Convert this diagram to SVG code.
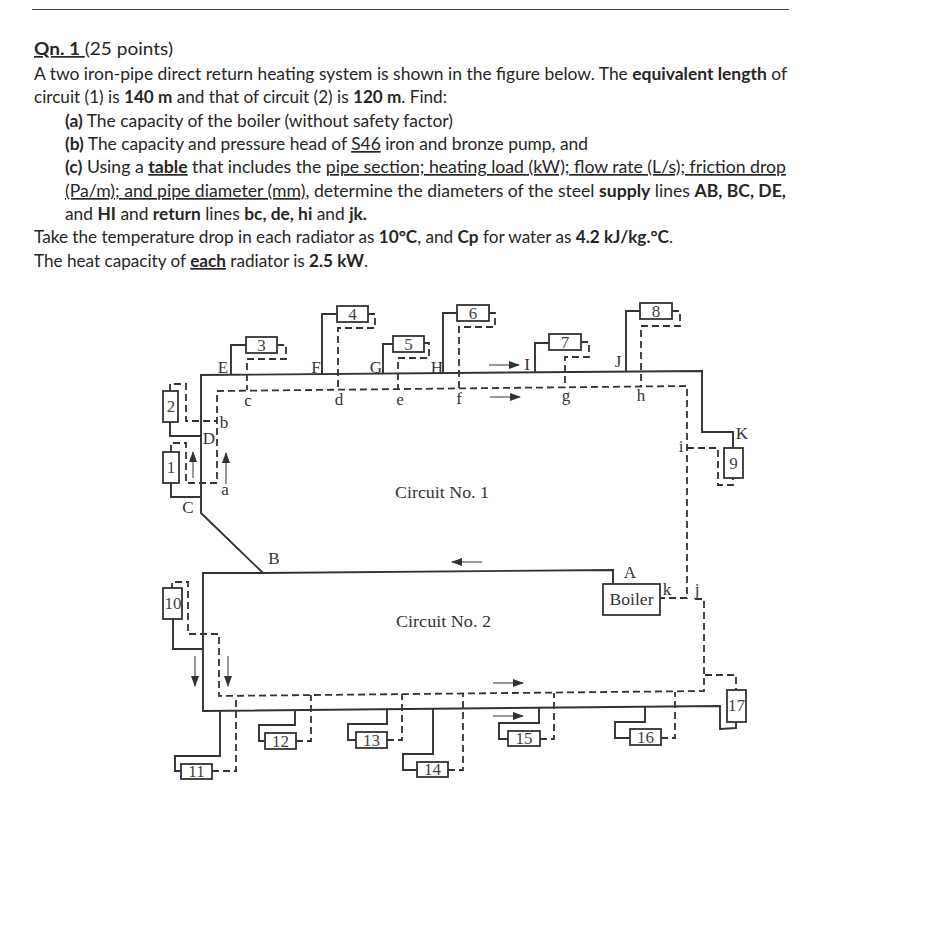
<svg xmlns="http://www.w3.org/2000/svg" width="928" height="950" viewBox="0 0 928 950">
<style>
.q{font-family:Lato,"Carlito","Open Sans",sans-serif;font-size:16.9px;fill:#262626}
.b{font-weight:700}
.u{text-decoration:underline;text-decoration-skip-ink:none}
.l{font-family:"Liberation Serif",serif;font-size:17px;fill:#333;text-anchor:middle}
.n{font-family:"Liberation Serif",serif;font-size:17px;fill:#444;text-anchor:middle}
.c{font-family:"Liberation Serif",serif;font-size:16.5px;fill:#333}
.r{fill:#fff;stroke:#333;stroke-width:1.8}
.s{fill:none;stroke:#333;stroke-width:1.9}
.d{fill:none;stroke:#333;stroke-width:1.8;stroke-dasharray:7 4}
.a{fill:none;stroke:#444;stroke-width:1.1;marker-end:url(#ah)}
</style>
<defs><marker id="ah" markerUnits="userSpaceOnUse" markerWidth="11" markerHeight="8" refX="10" refY="4" orient="auto"><path d="M0 0L11 4L0 8z" fill="#333"/></marker></defs>
<rect width="928" height="950" fill="#fff"/>
<path d="M32 9.5H789" stroke="#444" stroke-width="1" fill="none"/>
<g id="question">
<text class="q" x="34" y="55" textLength="139" lengthAdjust="spacingAndGlyphs"><tspan class="b u">Qn. 1 </tspan>(25 points)</text>
<text class="q" x="34" y="80" textLength="753" lengthAdjust="spacingAndGlyphs">A two iron-pipe direct return heating system is shown in the figure below. The <tspan class="b">equivalent length</tspan> of</text>
<text class="q" x="34" y="103" textLength="413" lengthAdjust="spacingAndGlyphs">circuit (1) is <tspan class="b">140 m</tspan> and that of circuit (2) is <tspan class="b">120 m</tspan>. Find:</text>
<text class="q" x="65" y="127" textLength="388" lengthAdjust="spacingAndGlyphs"><tspan class="b">(a)</tspan> The capacity of the boiler (without safety factor)</text>
<text class="q" x="65" y="150" textLength="523" lengthAdjust="spacingAndGlyphs"><tspan class="b">(b)</tspan> The capacity and pressure head of <tspan class="u">S46</tspan> iron and bronze pump, and</text>
<text class="q" x="65" y="173" textLength="721" lengthAdjust="spacingAndGlyphs"><tspan class="b">(c)</tspan> Using a <tspan class="b u">table</tspan> that includes the <tspan class="u">pipe section; heating load (kW); flow rate (L/s); friction drop</tspan></text>
<text class="q" x="65" y="197" textLength="721" lengthAdjust="spacingAndGlyphs"><tspan class="u">(Pa/m); and pipe diameter (mm)</tspan>, determine the diameters of the steel <tspan class="b">supply</tspan> lines <tspan class="b">AB, BC, DE,</tspan></text>
<text class="q" x="65" y="220" textLength="302" lengthAdjust="spacingAndGlyphs">and <tspan class="b">HI</tspan> and <tspan class="b">return</tspan> lines <tspan class="b">bc, de, hi</tspan> and <tspan class="b">jk.</tspan></text>
<text class="q" x="34" y="243" textLength="639" lengthAdjust="spacingAndGlyphs">Take the temperature drop in each radiator as <tspan class="b">10°C</tspan>, and <tspan class="b">Cp</tspan> for water as <tspan class="b">4.2 kJ/kg.°C</tspan>.</text>
<text class="q" x="34" y="267" textLength="334" lengthAdjust="spacingAndGlyphs">The heat capacity of <tspan class="b u">each</tspan> radiator is <tspan class="b">2.5 kW</tspan>.</text>
</g>
<g id="connectors">
<path class="s" d="M733 448V432H702V371L201 375V513L263 573L613 570V584"/>
<path class="s" d="M231 375V345H246M322 375V314H337M383 374V344H393M443 374V313H457M535 373V343H549M626 372V311H640"/>
<path class="s" d="M171 483V497H201M170 422V436H201M173 619V649H203"/>
<path class="s" d="M263 573H203V711L720 706V729L736 728V722"/>
<path class="s" d="M220 711V756H175V771H181M295 710V725H259V741H265M387 709V724H348V740H356M433 709V754H403V770H417M539 707V723H499V739H508M645 706V722H615V738H630"/>
<path class="d" d="M171 452V443H186V483H217V391L687 386V598H660"/>
<path class="d" d="M170 391V384H186V421H217"/>
<path class="d" d="M277 345H286V359H247V390M368 314H375V328H338V390M424 343H429V358H398V389M489 313H495V327H459V388M581 342H589V357H565V388M672 311H680V326H641V386"/>
<path class="d" d="M687 448H718V485H733V478"/>
<path class="d" d="M695 599H704V691L219 696V634H188V582H172V588"/>
<path class="d" d="M705 675H736V690"/>
<path class="d" d="M212 771H236V696M296 741H311V695M387 740H402V694M448 770H463V693M540 739H554V693M661 738H675V692"/>
<path class="a" d="M193 478V452"/><path class="a" d="M226 484V453"/>
<path class="a" d="M489 365H519"/><path class="a" d="M490 397H520"/>
<path class="a" d="M482 562H452"/><path class="a" d="M493 683H523"/><path class="a" d="M493 716H523"/>
<path class="a" d="M195 656V686"/><path class="a" d="M228 656V686"/>
</g>
<g id="boiler"><rect class="r" x="603" y="584" width="57" height="31"/><text class="l" x="631.5" y="605" textLength="44" lengthAdjust="spacingAndGlyphs">Boiler</text></g>
<g id="r1"><rect class="r" x="163" y="452" width="16" height="31"/><text class="n" x="171" y="473">1</text></g>
<g id="r2"><rect class="r" x="163" y="391" width="15" height="31"/><text class="n" x="171" y="412">2</text></g>
<g id="r3"><rect class="r" x="246" y="337" width="31" height="16"/><text class="n" x="261.5" y="351">3</text></g>
<g id="r4"><rect class="r" x="337" y="306" width="31" height="16"/><text class="n" x="352.5" y="320">4</text></g>
<g id="r5"><rect class="r" x="393" y="336" width="31" height="16"/><text class="n" x="408.5" y="350">5</text></g>
<g id="r6"><rect class="r" x="457" y="305" width="32" height="16"/><text class="n" x="473" y="319">6</text></g>
<g id="r7"><rect class="r" x="549" y="334" width="32" height="16"/><text class="n" x="565" y="348">7</text></g>
<g id="r8"><rect class="r" x="640" y="303" width="32" height="16"/><text class="n" x="656" y="317">8</text></g>
<g id="r9"><rect class="r" x="724" y="448" width="19" height="30"/><text class="n" x="733.5" y="469">9</text></g>
<g id="r10"><rect class="r" x="163" y="588" width="19" height="31"/><text class="n" x="173" y="609" textLength="17" lengthAdjust="spacingAndGlyphs">10</text></g>
<g id="r11"><rect class="r" x="181" y="764" width="31" height="15"/><text class="n" x="196.5" y="777">11</text></g>
<g id="r12"><rect class="r" x="265" y="733" width="31" height="16"/><text class="n" x="280.5" y="747">12</text></g>
<g id="r13"><rect class="r" x="356" y="732" width="31" height="16"/><text class="n" x="371.5" y="746">13</text></g>
<g id="r14"><rect class="r" x="417" y="762" width="31" height="15"/><text class="n" x="432.5" y="775">14</text></g>
<g id="r15"><rect class="r" x="508" y="731" width="32" height="15"/><text class="n" x="524" y="744">15</text></g>
<g id="r16"><rect class="r" x="630" y="729" width="31" height="16"/><text class="n" x="645.5" y="743">16</text></g>
<g id="r17"><rect class="r" x="727" y="690" width="19" height="32"/><text class="n" x="736.5" y="711" textLength="17" lengthAdjust="spacingAndGlyphs">17</text></g>
<g id="labels">
<text class="l" x="223" y="373">E</text><text class="l" x="316" y="373">F</text><text class="l" x="376" y="373">G</text><text class="l" x="437" y="373">H</text>
<text class="l" x="527" y="370">I</text><text class="l" x="618" y="367">J</text><text class="l" x="742" y="439">K</text><text class="l" x="681" y="452">i</text>
<text class="l" x="248" y="406">c</text><text class="l" x="339" y="405">d</text><text class="l" x="400" y="405">e</text><text class="l" x="459" y="404">f</text><text class="l" x="566" y="401">g</text><text class="l" x="641" y="401">h</text>
<text class="l" x="225" y="495">a</text><text class="l" x="224" y="428">b</text><text class="l" x="209" y="444">D</text><text class="l" x="188" y="513">C</text>
<text class="l" x="274" y="564">B</text><text class="l" x="630" y="578">A</text><text class="l" x="667" y="595">k</text><text class="l" x="697" y="595">j</text>
<text class="c" x="395" y="498" textLength="94" lengthAdjust="spacingAndGlyphs">Circuit No. 1</text><text class="c" x="396" y="627" textLength="95" lengthAdjust="spacingAndGlyphs">Circuit No. 2</text>
</g>
</svg>
